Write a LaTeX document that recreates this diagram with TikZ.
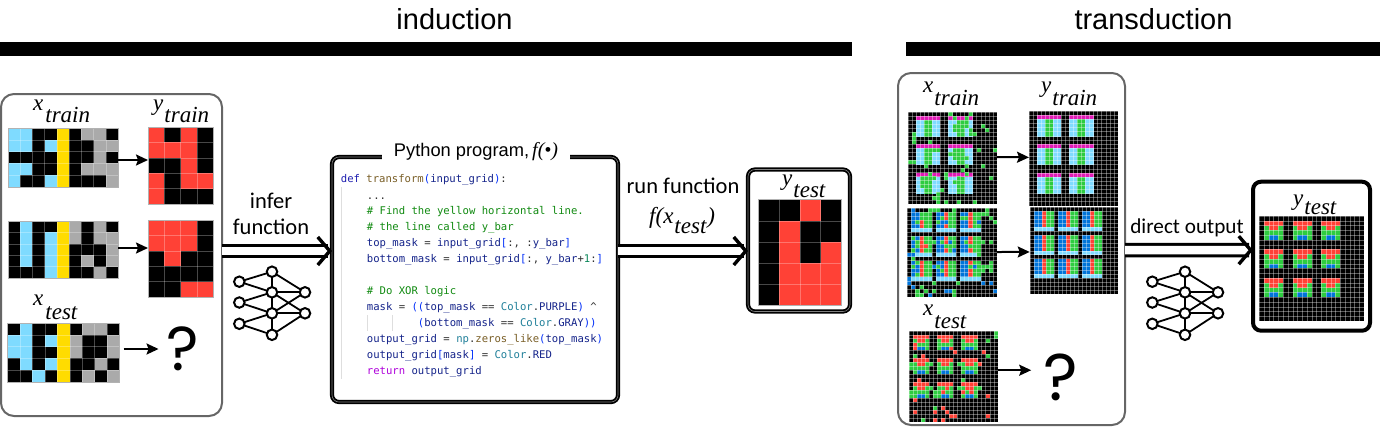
\documentclass[tikz,border=0pt]{standalone}
\usepackage{fontspec}
\setmainfont{Liberation Sans}
\newfontfamily\capfont{Carlito}
\newfontfamily\mathfont{Liberation Serif}[ItalicFont={Liberation Serif Italic}]
\newfontfamily\codefont{DejaVu Sans Mono}
\newfontfamily\qfont{Poppins}
\usetikzlibrary{arrows.meta,calc}
\definecolor{cellk}{HTML}{000000}
\definecolor{cellb}{HTML}{7FDBFF}
\definecolor{celly}{HTML}{FFDC00}
\definecolor{cellg}{HTML}{AAAAAA}
\definecolor{cellr}{HTML}{FF4136}
\definecolor{cellm}{HTML}{E01AB5}
\definecolor{cellv}{HTML}{2ECC40}
\definecolor{celld}{HTML}{0074D9}
\definecolor{boxgray}{HTML}{666666}
\definecolor{ckw}{HTML}{1F1FB0}
\definecolor{cfn}{HTML}{795E26}
\definecolor{cva}{HTML}{14238A}
\definecolor{ccm}{HTML}{108A10}
\definecolor{ccl}{HTML}{1F7F99}
\definecolor{cre}{HTML}{AF00DB}
\definecolor{cnu}{HTML}{098658}
\definecolor{cbr}{HTML}{0431FA}
\definecolor{cop}{HTML}{303030}
\newcommand\cKw[1]{\textcolor{ckw}{#1}}
\newcommand\cFn[1]{\textcolor{cfn}{#1}}
\newcommand\cVa[1]{\textcolor{cva}{#1}}
\newcommand\cCm[1]{\textcolor{ccm}{#1}}
\newcommand\cCl[1]{\textcolor{ccl}{#1}}
\newcommand\cRe[1]{\textcolor{cre}{#1}}
\newcommand\cNu[1]{\textcolor{cnu}{#1}}
\newcommand\cBr[1]{\textcolor{cbr}{#1}}
\newcommand\fs[1]{\fontsize{#1}{#1}\selectfont}
% italic label: name, anchor x, baseline y, letter, subscript, xgap, drop
\newcommand\sublabel[7]{\node[anchor=base west,inner sep=0pt,font=\mathfont\itshape\fs{23}] (#1) at (#2,#3) {#4\hspace{#6pt}\raisebox{-#7pt}{#5}};}
\newcommand\glines[3]{% style, ncols, nrows
  \foreach \gi in {0,...,#2} \draw[#1] (\gi,0) -- (\gi,#3);
  \foreach \gj in {0,...,#3} \draw[#1] (0,\gj) -- (#2,\gj);
}
\makeatletter
% name, x0, y0, x1, y1, ncols, rows
\newcommand\cellgrid[7]{%
  \node[gridbox,anchor=north west,minimum width=#4pt-#2pt,minimum height=#5pt-#3pt] (#1) at (#2,#3) {};
  \pgfmathsetmacro\cw{(#4-#2)/#6}
  \gdef\nrw{0}
  \foreach \rw in {#7}{\xdef\nrw{\the\numexpr\nrw+1\relax}}
  \pgfmathsetmacro\ch{(#5-#3)/\nrw}
  \begin{scope}[shift={(#2,#3)},xscale=\cw,yscale=\ch]
  \foreach \rw [count=\ry from 0] in {#7}{%
    \gdef\cxg{0}%
    \expandafter\@tfor\expandafter\cc\expandafter:\expandafter=\rw\do{%
      \fill[cell\cc] (\cxg,\ry) rectangle ++(1,1);
      \xdef\cxg{\the\numexpr\cxg+1\relax}}%
  }
  \glines{cellline}{#6}{\nrw}
  \draw[draw=white!70!black,line width=.5pt] (0,0) rectangle (#6,\nrw);
  \end{scope}
}
\makeatother
\newcommand\fc[3]{\fill[#3] (#1,#2) rectangle ++(1,1);}
\newcommand\fr[5]{\fill[#5] (#1,#2) rectangle ++(#3,#4);}
\newcommand\bigbase[7]{% name x0 y0 x1 y1 ncols nrows
  \node[gridbox,fill=black,anchor=north west,minimum width=#4pt-#2pt,minimum height=#5pt-#3pt] (#1) at (#2,#3) {};
}
\newcommand\blockM[2]{% magenta-top block
  \fr{#1}{#2}{6}{1}{cellm}\fr{#1}{#2+1}{2}{4.2}{cellb}\fr{#1+2}{#2+1}{2}{4.2}{cellv}\fr{#1+4}{#2+1}{2}{4.2}{cellb}}
\newcommand\blockS[2]{% blue/red/green block with sky foot
  \fr{#1}{#2}{2}{4}{celld}\fr{#1+2}{#2}{1}{4}{cellr}\fr{#1+3}{#2}{2}{4}{cellv}\fr{#1}{#2+4}{5}{1}{cellb}}
\newcommand\blockR[2]{% red top green body blue foot
  \fr{#1}{#2}{4}{1}{cellr}\fr{#1}{#2+1}{4}{3}{cellv}\fr{#1+1}{#2+1}{2}{1}{cellr}\fr{#1+1}{#2+3}{2}{1}{celld}}
\newcommand\nnet[3]{% prefix, dx, dy
  \begin{scope}[shift={(#2,#3)}]
  \foreach \n/\y in {i1/281.7,i2/302.5,i3/323.8} \node[nn] (#1\n) at (239.3,\y) {};
  \foreach \n/\y in {m1/271.7,m2/292.3,m3/313.3,m4/334.8} \node[nn] (#1\n) at (272,\y) {};
  \foreach \n/\y in {o1/292.3,o2/313.3} \node[nn] (#1\n) at (305,\y) {};
  \foreach \a/\b in {i1/m1,i1/m2,i2/m2,i2/m3,i3/m3,i3/m4,m1/m2,m2/m3,m3/m4,m1/o1,m2/o1,m2/o2,m3/o1,m3/o2,m4/o2}
    \draw[nnline] (#1\a) -- (#1\b);
  \end{scope}
}
\tikzset{
  gridbox/.style={inner sep=0pt,outer sep=0pt,draw=none},
  cellline/.style={draw=white,draw opacity=.28,line width=.4pt},
  biglines/.style={draw=white,draw opacity=.36,line width=.25pt},
  panel/.style={draw=boxgray,line width=2pt,rounded corners=13pt,fill=white,inner sep=0pt,outer sep=0pt},
  blackbox/.style={draw=black,line width=1.8pt,double=black!50,double distance=.6pt,rounded corners=7pt,fill=white,inner sep=0pt,outer sep=0pt},
  thickbox/.style={draw=black,line width=4pt,rounded corners=8pt,fill=white,inner sep=0pt,outer sep=0pt},
  arr/.style={draw=black,line width=2pt,-{Stealth[length=12pt,width=11pt,inset=2pt]}},
  bigarr/.style={draw=black,line width=3pt,double=white,double distance=8.5pt,-{Straight Barb[length=12pt,width=28pt,line width=3.4pt]}},
  nn/.style={circle,draw=black,line width=2pt,fill=white,minimum size=10.5pt,inner sep=0pt,outer sep=0pt},
  nnline/.style={draw=black,line width=1.8pt},
  code/.style={anchor=base west,inner sep=0pt,font=\codefont\fs{10.6},text=cop},
  captext/.style={font=\capfont\fs{22.5},inner sep=0pt,anchor=base},
  ttl/.style={font=\fs{29},inner sep=0pt,anchor=base},
  qm/.style={anchor=base,inner sep=0pt,text=black},
  guide/.style={draw=black!13,line width=.8pt},
}
\begin{document}
\begin{tikzpicture}[x=1pt,y=-1pt]
\useasboundingbox (0,0) rectangle (1380,429);
% titles and bars
\node[ttl] (tind) at (454.5,29) {induction};
\node[ttl] (ttra) at (1153.5,29) {transduction};
\fill[black] (0,42) rectangle (852,55.5);
\fill[black] (906,42) rectangle (1380,55.5);
% left panel
\node[panel,anchor=north west,minimum width=221pt,minimum height=322pt] (lp) at (1,94) {};
\sublabel{lxa}{33}{110}{x}{train}{2}{12}
\sublabel{lya}{153}{110}{y}{train}{1}{12}
\cellgrid{gxa}{8}{128}{118}{187}{9}{bbkkykggk,bbkbykkgg,kkkkykkgk,bbkkykggg,bkkbykkkg}
\cellgrid{gya}{148}{127}{213}{204}{4}{rkrk,rrrk,kkrk,rkrr,rkkk}
\cellgrid{gxb}{8}{221}{118}{278}{9}{kbkkygkgk,kbkbygkgg,kbkbykkkg,kbkbykgkg,kkkbykkgk}
\cellgrid{gyb}{148}{220}{213}{297}{4}{rrrk,rrrk,krkk,kkkk,kkrr}
\sublabel{lxt}{33}{305}{x}{test}{2}{14}
\cellgrid{gxt}{7.5}{323}{119.5}{382}{9}{kbkkykggk,bbkbygkkg,bbkkygkkg,kbkbykkgk,kkbkykgkg}
\node[qm,font=\qfont\fs{62}] (qa) at (183,370) {?};
\draw[arr] ([yshift=-2.5pt]gxa.east) -- ([yshift=5.5pt]gya.west);
\draw[arr] ([yshift=1.5pt]gxb.east) -- ([yshift=10.5pt]gyb.west);
\draw[arr] ([xshift=4pt,yshift=3.5pt]gxt.east) -- ([xshift=-8pt,yshift=3.5pt]gxt.east -| qa.west);
% python box
\node[blackbox,anchor=north west,minimum width=286pt,minimum height=245pt] (py) at (332,157) {};
\node[fill=white,minimum width=188pt,minimum height=24pt,inner sep=0pt] (pyl) at (476,152) {\fs{18.3}Python program,\hspace{3pt}{\mathfont\itshape\fs{20}f(•)}};
\draw[guide] (341,187) -- (341,379);
\draw[guide] (367,315) -- (367,331);
\draw[guide] (392.5,315) -- (392.5,331);
\node[code] (c1) at (340.7,182) {\cKw{def} \cFn{transform}\cBr{(}\cVa{input\_grid}\cBr{)}:};
\node[code] (c2) at (366.7,199) {...};
\node[code] (c3) at (366.7,214.5) {\cCm{\# Find the yellow horizontal line.}};
\node[code] (c4) at (366.7,230.5) {\cCm{\# the line called y\_bar}};
\node[code] (c5) at (366.7,246.5) {\cVa{top\_mask} = \cVa{input\_grid}\cBr{[}:, :\cVa{y\_bar}\cBr{]}};
\node[code] (c6) at (366.7,262.5) {\cVa{bottom\_mask} = \cVa{input\_grid}\cBr{[}:, \cVa{y\_bar}+\cNu{1}:\cBr{]}};
\node[code] (c7) at (366.7,294.5) {\cCm{\# Do XOR logic}};
\node[code] (c8) at (366.7,310.5) {\cVa{mask} = \cBr{((}\cVa{top\_mask} == \cCl{Color}.\cVa{PURPLE}\cBr{)} \^{}};
\node[code] (c9) at (417.7,326.5) {\cBr{(}\cVa{bottom\_mask} == \cCl{Color}.\cVa{GRAY}\cBr{))}};
\node[code] (c10) at (366.7,342.5) {\cVa{output\_grid} = \cCl{np}.\cFn{zeros\_like}\cBr{(}\cVa{top\_mask}\cBr{)}};
\node[code] (c11) at (366.7,358.5) {\cVa{output\_grid}\cBr{[}\cVa{mask}\cBr{]} = \cCl{Color}.\cVa{RED}};
\node[code] (c12) at (366.7,374.5) {\cRe{return} \cVa{output\_grid}};
% y_test box
\node[blackbox,anchor=north west,minimum width=102pt,minimum height=142pt] (ybox) at (748,169.5) {};
\sublabel{lyt}{782}{185}{y}{test}{1}{12}
\cellgrid{gyt}{758}{199.5}{841.5}{305.5}{4}{kkrk,krkk,krkr,krrr,krrr}
% connectors
\draw[bigarr] ([yshift=4pt]lp.east) -- ([yshift=28.5pt]py.west);
\draw[bigarr] ([yshift=28.5pt]py.east) -- ([yshift=-10.5pt]ybox.west);
\node[captext] (tinf) at (271,208) {infer};
\node[captext] (tfun) at (271,234) {function};
\node[captext] (trun) at (683,193) {run function};
\node[anchor=base west,inner sep=0pt,font=\mathfont\itshape\fs{23}] (tfx) at (649,223) {f(x\hspace{1pt}\raisebox{-10pt}{test}\hspace{1pt})};
\nnet{na}{0}{0}
% right panel
\node[panel,anchor=north west,minimum width=227pt,minimum height=352pt] (rp) at (898,73) {};
\sublabel{rxa}{923}{92}{x}{train}{1}{13}
\sublabel{rya}{1041}{92}{y}{train}{1}{13}
% grid A
\bigbase{ga}{908.3}{111.7}{996.7}{204.3}{22}{23}
\begin{scope}[shift={(908.3,111.7)},xscale=4.018,yscale=4.026]
\blockM{2}{1}\blockM{10}{1}\blockM{2}{8}\blockM{10}{8}\blockM{2}{15.2}\blockM{10}{15.2}
\foreach \c/\r in {10/0,15/0,18/3,19/4,1/5,1/6,15/4,16/5,5/7,1/7,17/9,21/9,0/12,1/12,18/13,20/16,9/15,9/16,13/14,7/21,6/21,7/22,9/22,12/22,16/22,
  11/1,12/2,13/2,11/3,14/3,11/4,14/1,14/2,15/5, 6/9,7/9, 11/9,12/9,12/10,13/10,11/10,11/11,12/11,13/11,14/11,12/12,13/12,10/10, 3/16,4/16,5/16,3/17,4/17,3/18,6/16, 11/17,12/16,8/19,7/20,5/15,14/13, 4/13, 14/15}
  {\fc{\c}{\r}{cellv}}
\glines{biglines}{22}{23}
\end{scope}
% grid B
\bigbase{gb}{1029}{111}{1117.7}{205.7}{22}{23}
\begin{scope}[shift={(1029,111)},xscale=4.032,yscale=4.117]
\blockM{2}{1}\blockM{10}{1}\blockM{2}{8}\blockM{10}{8}\blockM{2}{15}\blockM{10}{15}
\glines{biglines}{22}{23}
\end{scope}
% grid C
\bigbase{gc}{907.3}{208.3}{997}{296.7}{22}{22}
\begin{scope}[shift={(907.3,208.3)},xscale=4.077,yscale=4.018]
\foreach \c in {1,7,13} \foreach \r in {1,7,13} {\blockS{\c}{\r}}
\foreach \c/\r in {1/0,5/0,6/0,7/0,11/0,19/1,20/2,21/3,20/8,17/11,1/12,0/11,20/13,19/14,20/14,20/15,2/20,2/21,3/21,4/20,6/20,11/20,11/21,
  3/1,3/2,4/1,2/3,1/7,2/8,2/9,1/10,8/8,9/9,7/14,8/15,14/8,15/9,7/3,14/2,15/14,8/2,2/13,1/14,2/16,19/0,18/1,18/8,18/14,18/15,3/19,6/18,12/18,13/2,6/8}
  {\fc{\c}{\r}{cellv}}
\foreach \c/\r in {0/11,1/11,0/17,0/18,20/18,21/20,9/20,10/20,5/21,1/0,9/3,10/8,17/3,16/14,6/14,11/10,18/18,1/19}
  {\fc{\c}{\r}{celld}}
\fc{3}{3}{cellr}\fc{4}{9}{cellr}
\glines{biglines}{22}{22}
\end{scope}
% grid D
\bigbase{gd}{1029.7}{207.3}{1118}{294}{22}{22}
\begin{scope}[shift={(1029.7,207.3)},xscale=4.014,yscale=3.94]
\foreach \c in {1,7,13} \foreach \r in {1,7,13} {\blockS{\c}{\r}}
\glines{biglines}{22}{22}
\end{scope}
% x_test grid E
\sublabel{rxt}{923}{315}{x}{test}{1}{13}
\bigbase{ge}{909}{330.7}{997.7}{421.7}{22}{23}
\begin{scope}[shift={(909,330.7)},xscale=4.032,yscale=3.957]
\foreach \c in {1,7,13} \foreach \r in {1,7,13} {\blockR{\c}{\r}}
\foreach \c/\r in {21/0,21/1,19/2,19/6,0/8,5/8,12/8,0/16,6/19,6/16,3/22,13/12,0/15,5/14,6/15,12/14,17/14,8/14,1/6,0/9}
  {\fc{\c}{\r}{cellv}}
\foreach \c/\r in {18/5,11/5,10/4,1/4,1/3,3/6,3/7,17/8,19/16,19/21,1/17,1/20,6/20,8/19,9/20,10/21,11/21,6/22,8/22,13/15,9/14,15/15,2/12,8/15}
  {\fc{\c}{\r}{cellr}}
\glines{biglines}{22}{23}
\end{scope}
\node[qm,font=\qfont\fs{66}] (qb) at (1060.7,400) {?};
\draw[arr] ([yshift=1pt]ga.east) -- ([yshift=1pt]gb.west);
\draw[arr] ([yshift=.5pt]gc.east) -- ([yshift=-1.3pt]gd.west);
\draw[arr] ([yshift=6pt]ge.east) -- ([xshift=-12pt,yshift=6pt]ge.east -| qb.west);
% y_test right
\node[thickbox,anchor=north west,minimum width=117pt,minimum height=149pt] (fbox) at (1253,181.7) {};
\sublabel{ryt}{1293}{205}{y}{test}{1}{9.5}
\bigbase{gf}{1259.3}{216}{1364}{321}{22}{22}
\begin{scope}[shift={(1259.3,216)},xscale=4.76,yscale=4.77]
\foreach \c in {1,7,13} \foreach \r in {1,7,13} {\blockR{\c}{\r}}
\glines{biglines}{22}{22}
\end{scope}
\draw[bigarr] ([yshift=-1pt]rp.east) -- ([yshift=6pt]fbox.west);
\node[captext,font=\capfont\fs{21.2}] (tdir) at (1187,233) {direct output};
\nnet{nb}{913}{0}
\end{tikzpicture}
\end{document}
